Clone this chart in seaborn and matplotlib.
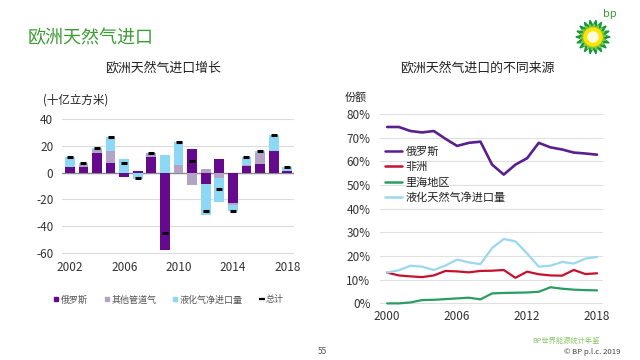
import numpy as np
import pandas as pd
import matplotlib
matplotlib.use('Agg')
import matplotlib.pyplot as plt
from matplotlib.lines import Line2D
from matplotlib.patches import Polygon, Circle
import seaborn as sns

# left chart: yearly change in imports (bcm), 2002-2018
bar_years = list(range(2002, 2019))
russia_chg = [4, 4, 14.5, 7, -3, 1, 12, -58, 0, 17.5, -8.5, 10, -23, 5, 6.5, 16, 1]
other_chg = [0.5, 2, 2.5, 9, 0, 0, 2.5, 0, 6, -9, 2.5, -4, -1.5, 0.5, 8.5, 0.5, 0.5]
lng_chg = [7.5, 1.5, 1.5, 11, 10, -5, 0.5, 13, 17, 0, -23, -18, -4, 6, 1, 11.5, 2.5]
total_chg = [12, 7.5, 18.5, 27, 7, -4, 15, -45, 23, 8.5, -29, -12, -28.5, 11.5, 16, 28, 4]

# right chart: share of imports by source (%), 2000-2018
line_years = list(range(2000, 2019))
share_russia = [74.5, 74.5, 72.8, 72.2, 72.8, 69.5, 66.5, 67.8, 68.3, 58.6, 54.4,
                58.6, 61.3, 67.8, 65.9, 65.0, 63.7, 63.3, 62.8]
share_africa = [13.0, 11.8, 11.4, 11.1, 11.8, 13.7, 13.5, 13.1, 13.7, 13.8, 14.1,
                10.8, 13.4, 12.3, 11.8, 11.7, 14.1, 12.4, 12.7]
share_caspian = [0.0, 0.0, 0.4, 1.4, 1.5, 1.8, 2.1, 2.4, 1.7, 4.2, 4.4,
                 4.5, 4.6, 4.9, 6.8, 6.2, 5.8, 5.6, 5.5]
share_lng = [13.0, 14.0, 15.9, 15.5, 14.1, 16.0, 18.5, 17.3, 16.6, 23.4, 27.2,
             26.2, 21.1, 15.5, 15.9, 17.5, 16.8, 18.9, 19.6]

bar_labels = ['俄罗斯', '其他管道气', '液化气净进口量', '总计']
line_labels = ['俄罗斯', '非洲', '里海地区', '液化天然气净进口量']

sns.set_theme(style='white')
plt.rcParams['font.family'] = ['Noto Sans CJK SC', 'DejaVu Sans']
plt.rcParams['axes.unicode_minus'] = False

bar_colors = ['#650a8c', '#b3a3c4', '#8dd8f5']
line_colors = ['#5a1f8e', '#c8102e', '#2a9d64', '#9ad8f0']
txt = '#333333'

fig = plt.figure(figsize=(6.4, 3.6), dpi=100)

# ---- left: stacked bars ----
ax1 = fig.add_axes([0.0964, 0.2906, 0.363, 0.3856])
pos_base = np.zeros(len(bar_years))
neg_base = np.zeros(len(bar_years))
for vals, c in zip([russia_chg, other_chg, lng_chg], bar_colors):
    v = np.array(vals, dtype=float)
    bottom = np.where(v >= 0, pos_base, neg_base)
    ax1.bar(bar_years, v, bottom=bottom, width=0.72, color=c, zorder=3, linewidth=0)
    pos_base += np.clip(v, 0, None)
    neg_base += np.clip(v, None, 0)
ax1.scatter(bar_years, total_chg, marker='_', s=20, linewidths=2.2, color='black', zorder=4)
ax1.set_xlim(2001.4, 2018.5)
ax1.set_ylim(-62, 42)
ax1.set_yticks(range(-60, 41, 20))
ax1.set_xticks(range(2002, 2019, 4))
ax1.grid(axis='y', color='#dcdcdc', linewidth=0.8, zorder=0)
ax1.axhline(0, color='#8a8a8a', linewidth=1.0, zorder=2)
sns.despine(ax=ax1, left=True, bottom=True)
ax1.tick_params(axis='both', labelsize=8.5, colors=txt, length=0)
ax1.tick_params(axis='y', pad=6)
ax1.tick_params(axis='x', pad=4)
ax1.set_xlabel('')
ax1.set_ylabel('')

handles = [
    Line2D([], [], marker='s', linestyle='', color=bar_colors[0], markersize=3.2),
    Line2D([], [], marker='s', linestyle='', color=bar_colors[1], markersize=3.2),
    Line2D([], [], marker='s', linestyle='', color=bar_colors[2], markersize=3.2),
    Line2D([], [], marker='_', linestyle='', color='black', markersize=4, markeredgewidth=1.6),
]
fig.legend(handles, bar_labels, loc='center', bbox_to_anchor=(0.263, 0.167), ncol=4,
           frameon=False, fontsize=6.5, handlelength=0.8, handletextpad=0.1,
           columnspacing=1.7, labelcolor='#555555')

# ---- right: shares by source ----
ax2 = fig.add_axes([0.594, 0.154, 0.348, 0.536])
df = pd.DataFrame({
    'year': line_years * 4,
    'share': share_russia + share_africa + share_caspian + share_lng,
    'source': sum([[lab] * len(line_years) for lab in line_labels], []),
})
sns.lineplot(data=df, x='year', y='share', hue='source', hue_order=line_labels,
             palette=line_colors, linewidth=1.6, ax=ax2, zorder=3)
for ln in ax2.lines[:1]:
    ln.set_linewidth(1.9)
ax2.set_xlim(1999.4, 2018.5)
ax2.set_ylim(-0.5, 81)
ax2.set_yticks(range(0, 81, 10))
ax2.set_xticks(range(2000, 2019, 6))
ax2.yaxis.set_major_formatter(matplotlib.ticker.FuncFormatter(lambda v, p: f'{v:.0f}%'))
ax2.grid(axis='y', color='#e0e0e0', linewidth=0.8, zorder=0)
sns.despine(ax=ax2, left=True, bottom=True)
ax2.tick_params(axis='both', labelsize=8.5, colors=txt, length=0)
ax2.tick_params(axis='y', pad=7)
ax2.tick_params(axis='x', pad=4)
ax2.set_xlabel('')
ax2.set_ylabel('')
leg = ax2.legend(loc='upper left', bbox_to_anchor=(0.0, 0.84), frameon=False,
                 fontsize=8, handlelength=1.6, handletextpad=0.3, labelspacing=0.45,
                 borderaxespad=0, labelcolor='#222222')
for h in leg.legend_handles:
    h.set_linewidth(1.8)

# ---- texts ----
fig.text(28 / 640, 1 - 38.5 / 360, '欧洲天然气进口', fontsize=13, color='#3d9b35',
         ha='left', va='center')
fig.text(163 / 640, 1 - 68 / 360, '欧洲天然气进口增长', fontsize=9.3, color='#222222',
         ha='center', va='center')
fig.text(477 / 640, 1 - 68 / 360, '欧洲天然气进口的不同来源', fontsize=9.3, color='#222222',
         ha='center', va='center')
fig.text(43 / 640, 1 - 100 / 360, '(十亿立方米)', fontsize=8.3, color='#222222',
         ha='left', va='center')
fig.text(345 / 640, 1 - 98 / 360, '份额', fontsize=8, color='#222222',
         ha='left', va='center')
fig.text(322 / 640, 1 - 352 / 360, '55', fontsize=6, color='#555555', ha='center', va='center')
fig.text(600 / 640, 1 - 340.5 / 360, 'BP世界能源统计年鉴', fontsize=5.2, color='#8cc66a',
         ha='right', va='center')
fig.text(620 / 640, 1 - 352 / 360, '© BP p.l.c. 2019', fontsize=5.6, color='#444444',
         ha='right', va='center')
fig.text(610 / 640, 1 - 14 / 360, 'bp', fontsize=8, color='#3d9b35', ha='center', va='center')

# ---- bp helios logo ----
lax = fig.add_axes([(593 - 18) / 640, 1 - (37 + 18) / 360, 36 / 640, 36 / 360])
lax.set_xlim(-1, 1)
lax.set_ylim(-1, 1)
lax.axis('off')
n = 18
ang = np.linspace(0, 2 * np.pi, 2 * n, endpoint=False)
rad = np.where(np.arange(2 * n) % 2 == 0, 0.95, 0.62)
lax.add_patch(Polygon(np.c_[rad * np.cos(ang), rad * np.sin(ang)], color='#119a3a'))
ang2 = ang + np.pi / (2 * n)
rad2 = np.where(np.arange(2 * n) % 2 == 0, 0.72, 0.5)
lax.add_patch(Polygon(np.c_[rad2 * np.cos(ang2), rad2 * np.sin(ang2)], color='#8cc63f'))
lax.add_patch(Circle((0, 0), 0.5, color='#ffe500'))
lax.add_patch(Circle((0, 0), 0.28, color='#fffbe0'))

fig.savefig('out.png', dpi=100)
